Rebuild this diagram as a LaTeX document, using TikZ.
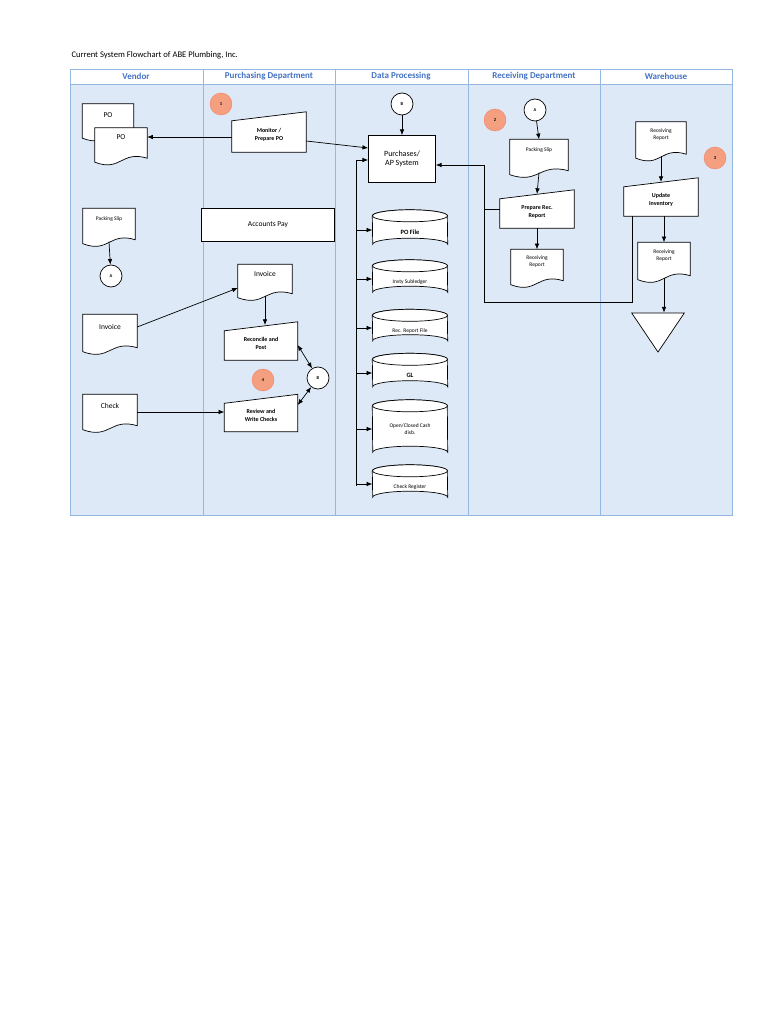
\documentclass[tikz,border=0pt]{standalone}
\usepackage{fontspec}
\setmainfont{Carlito}
\usetikzlibrary{positioning,arrows.meta,calc,shapes.geometric}
\pgfdeclarelayer{background}
\pgfdeclarelayer{middle}
\pgfsetlayers{background,middle,main}
\definecolor{lane}{RGB}{221,233,246}
\definecolor{laneline}{RGB}{149,184,224}
\definecolor{headblue}{RGB}{68,114,196}
\definecolor{badge}{RGB}{244,160,128}
\tikzset{
  flow/.style={-{Latex[length=2mm,width=1.6mm]},line width=0.7pt},
  both/.style={{Latex[length=2mm,width=1.6mm]}-{Latex[length=2mm,width=1.6mm]},line width=0.7pt},
  outline/.style={draw=black,fill=white,line width=0.7pt},
  box/.style={inner sep=0pt,align=center,font=\fontsize{6}{7}\selectfont},
  conn/.style={circle,outline,minimum size=22pt,inner sep=0pt,font=\fontsize{4.5}{5}\selectfont\bfseries},
  numbadge/.style={circle,fill=badge,draw=badge!80!red,minimum size=22pt,inner sep=0pt,font=\fontsize{4.5}{5}\selectfont\bfseries},
  store/.style={inner sep=0pt,minimum width=75pt,font=\fontsize{5.5}{7}\selectfont,align=center},
  lanehead/.style={font=\fontsize{9}{10}\selectfont\bfseries,text=headblue}
}
% document with a wavy bottom
\newcommand{\docshape}[1]{%
  \begin{pgfonlayer}{middle}
  \path[outline] (#1.north west) -- (#1.north east) -- ($(#1.south east)+(0,-4)$)
    .. controls ($(#1.south)+(0,-12)$) and ($(#1.south)+(0,10)$) .. ($(#1.south west)+(0,0)$) -- cycle;
  \end{pgfonlayer}}
% manual input with a slanted top
\newcommand{\manualshape}[1]{%
  \begin{pgfonlayer}{middle}
  \path[outline] ($(#1.north west)+(0,9)$) -- (#1.north east) -- (#1.south east) -- (#1.south west) -- cycle;
  \end{pgfonlayer}}
% disk storage
\newcommand{\storeshape}[1]{%
  \begin{pgfonlayer}{middle}
  \path[outline] ($(#1.north west)+(0,6)$) arc[start angle=180,end angle=360,x radius=37.5pt,y radius=-6pt]
    -- ($(#1.south east)+(0,-6)$) arc[start angle=0,end angle=-180,x radius=37.5pt,y radius=-6pt] -- cycle;
  \path[outline] ($(#1.north)+(0,6)$) ellipse[x radius=37.5pt,y radius=6pt];
  \end{pgfonlayer}}
\begin{document}
\begin{tikzpicture}[x=1pt,y=-1pt]
\useasboundingbox (0,0) rectangle (768,1024);

% lanes
\begin{pgfonlayer}{background}
\fill[white] (0,0) rectangle (768,1024);
\fill[lane] (70,84) rectangle (732,515);
\draw[laneline] (70,69) rectangle (732,515);
\draw[laneline] (70,84) -- (732,84);
\foreach \x in {203,335,468,600} \draw[laneline] (\x,69) -- (\x,515);
\end{pgfonlayer}
\node[anchor=west,font=\fontsize{8.6}{10}\selectfont] (title) at (68,55) {Current System Flowchart of ABE Plumbing, Inc.};
\node[lanehead] (hvendor) at (136,76) {Vendor};
\node[lanehead] (hpurch) at (269,76) {Purchasing Department};
\node[lanehead] (hdp) at (401,76) {Data Processing};
\node[lanehead] (hrecv) at (534,76) {Receiving Department};
\node[lanehead] (hware) at (666,76) {Warehouse};

% vendor
\node[box,minimum width=51pt,minimum height=34pt,font=\fontsize{7.5}{9}\selectfont] (poback) at (108,121) {\raisebox{12pt}{PO}};
\docshape{poback}
\node[box,minimum width=52pt,minimum height=34pt,font=\fontsize{7.5}{9}\selectfont] (pofront) at (121,145) {PO\\[6pt]};
\docshape{pofront}
\node[box,minimum width=52pt,minimum height=35pt,font=\fontsize{5.5}{6}\selectfont] (vslip) at (109,226) {Packing Slip\\[8pt]};
\docshape{vslip}
\node[conn] (conA) at (111,276) {A};
\node[box,minimum width=54pt,minimum height=37pt,font=\fontsize{7.5}{9}\selectfont] (vinvoice) at (110,333) {Invoice\\[4pt]};
\docshape{vinvoice}
\node[box,minimum width=54pt,minimum height=35pt,font=\fontsize{7.5}{9}\selectfont] (check) at (110,412) {Check\\[4pt]};
\docshape{check}

% purchasing
\node[numbadge] (n1) at (221,104) {1};
\node[box,minimum width=74pt,minimum height=40pt,font=\fontsize{6}{7.5}\selectfont\bfseries] (monitor) at (269,132) {\\[2pt]Monitor /\\Prepare PO};
\manualshape{monitor}
\node[box,outline,minimum width=133pt,minimum height=33pt,font=\fontsize{7.5}{9}\selectfont] (accpay) at (268,225) {Accounts Pay};
\node[box,minimum width=54pt,minimum height=33pt,font=\fontsize{7.5}{9}\selectfont] (pinvoice) at (265,281) {Invoice\\[6pt]};
\docshape{pinvoice}
\node[box,minimum width=73pt,minimum height=38pt,font=\fontsize{6}{7.5}\selectfont\bfseries] (reconcile) at (261,341) {\\[2pt]Reconcile and\\Post};
\manualshape{reconcile}
\node[numbadge] (n4) at (263,380) {4};
\node[conn] (conB) at (318,378) {B};
\node[box,minimum width=73pt,minimum height=37pt,font=\fontsize{6}{7.5}\selectfont\bfseries] (review) at (261,413) {\\[2pt]Review and\\Write Checks};
\manualshape{review}

% data processing
\node[conn] (conBtop) at (402,104) {B};
\node[box,outline,minimum width=67pt,minimum height=47pt,font=\fontsize{8}{9.5}\selectfont] (purch) at (402,159) {Purchases/\\AP System};
\node[store,minimum height=40pt,font=\fontsize{6.5}{7}\selectfont\bfseries] (pofile) at (410,230) {\\[2pt]PO File};
\storeshape{pofile}
\node[store,minimum height=38pt] (invty) at (410,279) {\\[2pt]Invty Subledger};
\storeshape{invty}
\node[store,minimum height=37pt] (recfile) at (410,328) {\\[2pt]Rec. Report File};
\storeshape{recfile}
\node[store,minimum height=39pt,font=\fontsize{6.5}{7}\selectfont\bfseries] (gl) at (410,373) {\\[2pt]GL};
\storeshape{gl}
\node[store,minimum height=58pt] (cash) at (410,429) {Open/Closed Cash\\disb.};
\storeshape{cash}
\node[store,minimum height=38pt] (chkreg) at (410,484) {\\[2pt]Check Register};
\storeshape{chkreg}
\coordinate (bus top) at (356,160);
\coordinate (bus bottom) at (356,486);

% receiving
\node[numbadge] (n2) at (495,120) {2};
\node[conn] (conArecv) at (535,110) {A};
\node[box,minimum width=58pt,minimum height=35pt,font=\fontsize{5.5}{6}\selectfont] (rslip) at (539,157) {Packing Slip\\[8pt]};
\docshape{rslip}
\node[box,minimum width=74pt,minimum height=38pt,font=\fontsize{6}{7.5}\selectfont\bfseries] (prep) at (537,209) {\\[2pt]Prepare Rec.\\Report};
\manualshape{prep}
\node[box,minimum width=52pt,minimum height=35pt,font=\fontsize{5.5}{7}\selectfont] (rreport) at (537,267) {Receiving\\Report\\[4pt]};
\docshape{rreport}

% warehouse
\node[box,minimum width=50pt,minimum height=36pt,font=\fontsize{5.5}{7}\selectfont] (wreport) at (661,140) {Receiving\\Report\\[4pt]};
\docshape{wreport}
\node[numbadge] (n3) at (715,158) {3};
\node[box,minimum width=74pt,minimum height=38pt,font=\fontsize{6}{7.5}\selectfont\bfseries] (update) at (661,197) {\\[2pt]Update\\Inventory};
\manualshape{update}
\node[box,minimum width=52pt,minimum height=37pt,font=\fontsize{5.5}{7}\selectfont] (wreport2) at (664,261) {Receiving\\Report\\[4pt]};
\docshape{wreport2}
\node[isosceles triangle,shape border rotate=-90,isosceles triangle apex angle=68,outline,minimum height=39pt,inner sep=0pt] (file) at (658,327) {};

% connectors
\draw[flow] (monitor.west |- pofront.east) ++(0,-8) coordinate (m1) -- (m1 -| pofront.east);
\draw[flow] ($(monitor.east)+(0,9)$) -- ($(purch.west)+(0,-11)$);
\draw[flow] (conBtop) -- (purch);
\draw[flow] (vslip.south) ++(0,-2) -- (conA);
\draw[flow] ($(vinvoice.east)+(0,-6)$) -- ($(pinvoice.west)+(0,7)$);
\draw[flow] ($(pinvoice.south)+(0,-2)$) -- (pinvoice.south |- 0,325);
\draw[both] ($(reconcile.east)+(0,4)$) -- (conB);
\draw[both] ($(review.east)+(0,-8)$) -- (conB);
\draw[flow] (check.east) -- (review.west |- check.east);
\draw[line width=0.7pt] (bus top) -- (bus bottom);
\draw[flow] (bus top) -- (purch.west |- bus top);
\foreach \s in {pofile,invty,recfile,gl,cash,chkreg}
  \draw[flow] (bus top |- \s.west) -- (\s.west);
\draw[flow] (conArecv) -- (rslip.north);
\draw[flow] ($(rslip.south)+(0,-2)$) -- (prep.north |- 0,194);
\draw[flow] (prep) -- (rreport);
\draw[flow] (prep.west) -- (484,209) -- (484,165) -- ($(purch.east)+(0,6)$);
\draw[line width=0.7pt] (484,209) -- (484,302) -- (632,302) -- (632,216);
\draw[flow] ($(wreport.south)+(0,-2)$) -- (wreport.south |- 0,182);
\draw[flow] (update.south -| wreport2.north) -- (wreport2.north);
\draw[flow] ($(wreport2.south)+(0,-2)$) -- (file.north -| wreport2.south);
\end{tikzpicture}
\end{document}
